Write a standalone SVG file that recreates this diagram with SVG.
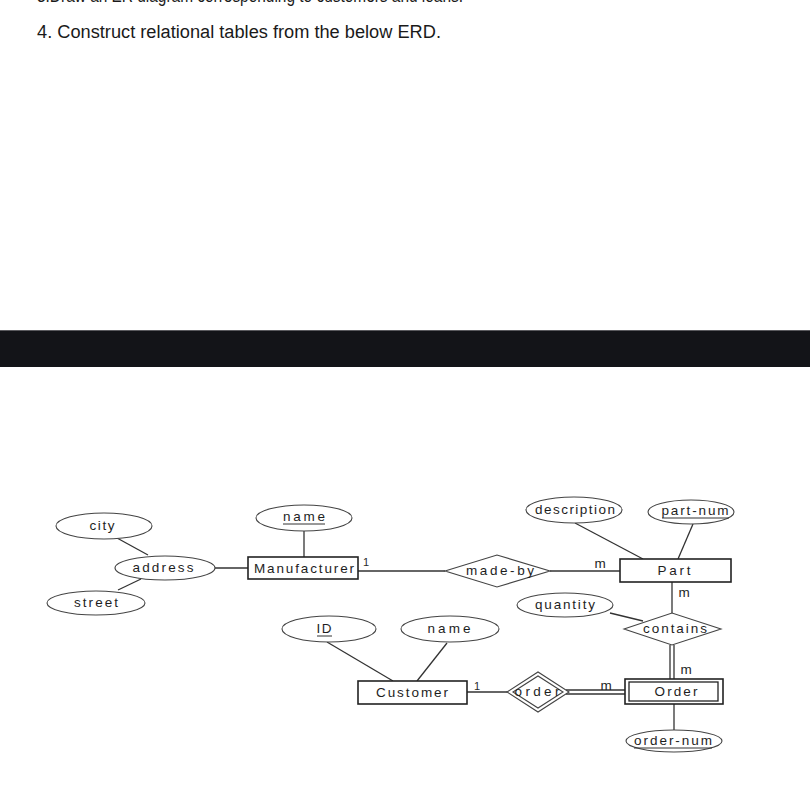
<svg xmlns="http://www.w3.org/2000/svg" width="810" height="796" viewBox="0 0 810 796">
<style>
.hdr{font-family:"Liberation Sans",Arial,sans-serif;font-size:18px;fill:#1a1a1a}
.lb{font-family:"Liberation Sans",Arial,sans-serif;font-size:13.5px;fill:#1e1e1e;text-anchor:middle}
.num{font-family:"Liberation Sans",Arial,sans-serif;font-size:11px;fill:#2a2a2a;text-anchor:middle}
.att{fill:#fff;stroke:#444;stroke-width:1.1}
.ent{fill:#fff;stroke:#222;stroke-width:1.6}
.rel{fill:#fff;stroke:#444;stroke-width:1.1}
.ln{stroke:#333;stroke-width:1.3;fill:none}
.ul{stroke:#333;stroke-width:1}
</style>
<rect width="810" height="796" fill="#fff"/>
<text class="hdr" x="37" y="2" textLength="426" lengthAdjust="spacingAndGlyphs">3.Draw an ER diagram corresponding to customers and loans.</text>
<text class="hdr" x="37" y="38" textLength="404" lengthAdjust="spacingAndGlyphs">4. Construct relational tables from the below ERD.</text>
<rect x="0" y="330" width="810" height="37" fill="#131418"/>
<rect x="0" y="330" width="810" height="1" fill="#5a5a5e"/>

<g id="connectors">
<line class="ln" x1="117" y1="538" x2="148" y2="555"/>
<line class="ln" x1="118" y1="590" x2="141" y2="579"/>
<line class="ln" x1="215" y1="568" x2="248" y2="568"/>
<line class="ln" x1="304" y1="531" x2="304" y2="557"/>
<line class="ln" x1="358" y1="571" x2="445" y2="571"/>
<line class="ln" x1="550" y1="571" x2="620" y2="571"/>
<line class="ln" x1="575" y1="523" x2="643" y2="559"/>
<line class="ln" x1="693" y1="524" x2="678" y2="559"/>
<line class="ln" x1="672" y1="582" x2="672" y2="613"/>
<line class="ln" x1="610" y1="613" x2="643" y2="621"/>
<line class="ln" x1="670" y1="645" x2="670" y2="679"/>
<line class="ln" x1="674" y1="645" x2="674" y2="679"/>
<line class="ln" x1="674" y1="704" x2="674" y2="730"/>
<line class="ln" x1="566" y1="690" x2="625" y2="690"/>
<line class="ln" x1="566" y1="694" x2="625" y2="694"/>
<line class="ln" x1="467" y1="692" x2="507" y2="692"/>
<line class="ln" x1="327" y1="642" x2="393" y2="681"/>
<line class="ln" x1="447" y1="643" x2="417" y2="681"/>
<text class="num" x="366" y="566">1</text>
<text class="lb" x="600" y="568">m</text>
<text class="lb" x="684" y="597">m</text>
<text class="lb" x="686" y="674">m</text>
<text class="lb" x="606" y="690">m</text>
<text class="num" x="477" y="690">1</text>
</g>

<g id="city"><ellipse class="att" cx="104" cy="526" rx="48" ry="13"/><text class="lb" x="102" y="530" textLength="25">city</text></g>
<g id="address"><ellipse class="att" cx="165" cy="568" rx="50" ry="12"/><text class="lb" x="163" y="572" textLength="61">address</text></g>
<g id="street"><ellipse class="att" cx="96" cy="603" rx="49" ry="12"/><text class="lb" x="96" y="607" textLength="44">street</text></g>

<g id="mname"><ellipse class="att" cx="304" cy="518" rx="48" ry="13"/><text class="lb" x="304" y="521" textLength="42">name</text><line class="ul" x1="283" y1="524" x2="325" y2="524"/></g>
<g id="manufacturer"><rect class="ent" x="248" y="557" width="110" height="22"/><text class="lb" x="304" y="573" textLength="100">Manufacturer</text></g>

<g id="madeby"><polygon class="rel" points="445,571 497,555 550,571 497,587"/><text class="lb" x="500" y="575" textLength="68">made-by</text></g>

<g id="description"><ellipse class="att" cx="574" cy="510" rx="48" ry="13"/><text class="lb" x="575" y="514" textLength="80">description</text></g>
<g id="partnum"><ellipse class="att" cx="691" cy="512" rx="43" ry="12"/><text class="lb" x="695" y="515" textLength="67">part-num</text><line class="ul" x1="662" y1="518" x2="729" y2="518"/></g>
<g id="part"><rect class="ent" x="620" y="559" width="111" height="23"/><text class="lb" x="674" y="575" textLength="33">Part</text></g>

<g id="quantity"><ellipse class="att" cx="565" cy="605" rx="48" ry="12"/><text class="lb" x="565" y="609" textLength="60">quantity</text></g>
<g id="contains"><polygon class="rel" points="624,629 672,613 721,629 672,645"/><text class="lb" x="675" y="633" textLength="64">contains</text></g>

<g id="order-entity"><rect class="ent" x="625" y="679" width="98" height="25"/><rect x="629" y="682" width="89" height="19" fill="none" stroke="#222" stroke-width="1.3"/><text class="lb" x="676" y="696" textLength="43">Order</text></g>
<g id="ordernum"><ellipse class="att" cx="674" cy="741" rx="48" ry="11"/><text class="lb" x="673" y="745" textLength="78">order-num</text><line class="ul" x1="634" y1="748" x2="712" y2="748"/></g>

<g id="order-rel"><polygon class="rel" points="507,692 538,672 569,692 538,712"/><polygon class="rel" points="513,692 538,676 563,692 538,708"/><text class="lb" x="537" y="696" textLength="45">order</text></g>

<g id="cid"><ellipse class="att" cx="329" cy="629" rx="47" ry="13"/><text class="lb" x="324" y="633" textLength="15">ID</text><line class="ul" x1="317" y1="636" x2="332" y2="636"/></g>
<g id="cname"><ellipse class="att" cx="450" cy="629" rx="49" ry="13"/><text class="lb" x="449" y="633" textLength="43">name</text></g>
<g id="customer"><rect class="ent" x="358" y="681" width="109" height="23"/><text class="lb" x="412" y="697" textLength="72">Customer</text></g>
</svg>
